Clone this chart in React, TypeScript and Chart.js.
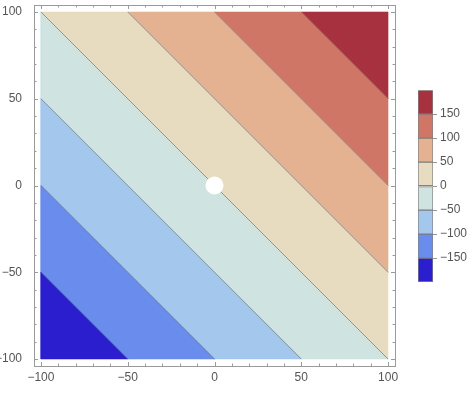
import React, { useEffect, useRef } from "react";
import { Chart, registerables } from "chart.js";
Chart.register(...registerables);

// ---- data ----
const axisTicks = [-100, -50, 0, 50, 100];
const contourLevels = [-150, -100, -50, 0, 50, 100, 150];
const bandColors = ["#2a1ecf", "#6a8cec", "#a4c7ee", "#cfe3e1", "#e7dcc0", "#e4b291", "#cf7667", "#a8313f"];
const legendTicks = [-150, -100, -50, 0, 50, 100, 150];
const legendRange = [-200, 200];
const domain = [-100, 100];
const criticalPoints = [{ x: 0, y: 0 }];

type P = { x: number; y: number };

function clip(poly: P[], f: (p: P) => number): P[] {
  const out: P[] = [];
  for (let i = 0; i < poly.length; i++) {
    const a = poly[i];
    const b = poly[(i + 1) % poly.length];
    const fa = f(a), fb = f(b);
    if (fa >= 0) out.push(a);
    if ((fa >= 0) !== (fb >= 0)) {
      const t = fa / (fa - fb);
      out.push({ x: a.x + t * (b.x - a.x), y: a.y + t * (b.y - a.y) });
    }
  }
  return out;
}

function bandPolygon(lo: number, hi: number): P[] {
  const [d0, d1] = domain;
  let poly: P[] = [
    { x: d0, y: d0 }, { x: d1, y: d0 }, { x: d1, y: d1 }, { x: d0, y: d1 },
  ];
  poly = clip(poly, (p) => p.x + p.y - lo);
  poly = clip(poly, (p) => hi - (p.x + p.y));
  if (poly.length) poly.push(poly[0]);
  return poly;
}

function contourSegment(c: number): P[] {
  const [d0, d1] = domain;
  const x1 = Math.max(d0, c - d1);
  const x2 = Math.min(d1, c - d0);
  return [{ x: x1, y: c - x1 }, { x: x2, y: c - x2 }];
}

const fmt = (v: any) => {
  const n = Number(v);
  return n < 0 ? "\u2212" + Math.abs(n) : String(n);
};

const FONT = { size: 12, family: "'Liberation Sans', Arial, sans-serif" };
const TICK_COLOR = "#555";

const framePlugin = {
  id: "frameTicks",
  afterDraw(chart: any) {
    const { ctx, chartArea: a, scales } = chart;
    ctx.save();
    ctx.strokeStyle = "#9a9a9a";
    ctx.lineWidth = 1;
    ctx.strokeRect(Math.round(a.left) + 0.5, Math.round(a.top) + 0.5, Math.round(a.right - a.left), Math.round(a.bottom - a.top));
    const minor: number[] = [];
    for (let v = domain[0]; v <= domain[1]; v += 10) minor.push(v);
    ctx.beginPath();
    for (const v of minor) {
      const len = axisTicks.includes(v) ? 4 : 2.5;
      const x = Math.round(scales.x.getPixelForValue(v)) + 0.5;
      const y = Math.round(scales.y.getPixelForValue(v)) + 0.5;
      ctx.moveTo(x, a.bottom); ctx.lineTo(x, a.bottom - len);
      ctx.moveTo(x, a.top); ctx.lineTo(x, a.top + len);
      ctx.moveTo(a.left, y); ctx.lineTo(a.left + len, y);
      ctx.moveTo(a.right, y); ctx.lineTo(a.right - len, y);
    }
    ctx.stroke();
    ctx.restore();
  },
};

export default function App() {
  const mainRef = useRef<HTMLCanvasElement>(null);
  const barRef = useRef<HTMLCanvasElement>(null);

  useEffect(() => {
    const bounds = [-Infinity, ...contourLevels, Infinity];
    const bandSets = bandColors.map((c, i) => ({
      type: "scatter" as const,
      data: bandPolygon(bounds[i], bounds[i + 1]),
      showLine: true,
      fill: "shape",
      backgroundColor: c,
      borderColor: c,
      borderWidth: 0.5,
      pointRadius: 0,
      order: 3,
    }));
    const lineSets = contourLevels.map((c) => ({
      type: "scatter" as const,
      data: contourSegment(c),
      showLine: true,
      fill: false,
      borderColor: "rgba(95,100,100,0.6)",
      borderWidth: 1,
      pointRadius: 0,
      order: 2,
    }));
    const dotSet = {
      type: "scatter" as const,
      data: criticalPoints,
      pointRadius: 9,
      pointBackgroundColor: "#ffffff",
      pointBorderWidth: 0,
      borderWidth: 0,
      order: 1,
    };

    const axis = (isX: boolean) => ({
      type: "linear" as const,
      min: -104,
      max: 104,
      afterBuildTicks: (s: any) => { s.ticks = axisTicks.map((v) => ({ value: v })); },
      afterFit: (s: any) => {
        if (isX) { s.height = 33; s.paddingLeft = 0; s.paddingRight = 0; }
        else { s.width = 34; s.paddingTop = 0; s.paddingBottom = 0; }
      },
      ticks: { callback: fmt, color: TICK_COLOR, font: FONT, padding: isX ? -4 : 4, maxRotation: 0, autoSkip: false },
      grid: { display: false },
      border: { display: false },
    });

    const main = new Chart(mainRef.current!, {
      type: "scatter",
      data: { datasets: [...bandSets, ...lineSets, dotSet] as any },
      options: {
        animation: false,
        responsive: false,
        devicePixelRatio: 1,
        layout: { padding: { left: 0, top: 9, right: 79, bottom: 0 } },
        plugins: { legend: { display: false }, tooltip: { enabled: false } },
        scales: { x: axis(true), y: axis(false) } as any,
      },
      plugins: [framePlugin],
    });

    const legendBounds = [legendRange[0], ...contourLevels, legendRange[1]];
    const bar = new Chart(barRef.current!, {
      type: "bar",
      data: {
        labels: [""],
        datasets: bandColors.map((c, i) => ({
          data: [[legendBounds[i], legendBounds[i + 1]]] as any,
          backgroundColor: c,
          borderColor: "rgba(90,90,90,0.75)",
          borderWidth: 1,
          borderSkipped: false,
          grouped: false,
          barPercentage: 1,
          categoryPercentage: 1,
        })),
      },
      options: {
        animation: false,
        responsive: false,
        devicePixelRatio: 1,
        layout: { padding: { left: 18, top: 9, right: 0, bottom: 18 } },
        plugins: { legend: { display: false }, tooltip: { enabled: false } },
        scales: {
          x: { display: false },
          y: {
            position: "right",
            min: legendRange[0],
            max: legendRange[1],
            afterBuildTicks: (s: any) => { s.ticks = legendTicks.map((v) => ({ value: v })); },
            afterFit: (s: any) => { s.width = 41; },
            ticks: { callback: fmt, color: TICK_COLOR, font: FONT, padding: 3, autoSkip: false },
            grid: { display: true, drawOnChartArea: false, tickLength: 4, color: "#999" },
            border: { display: false },
          },
        } as any,
      },
    });

    return () => { main.destroy(); bar.destroy(); };
  }, []);

  return (
    <div style={{ position: "fixed", left: 0, top: 0, width: 474, height: 399, background: "#fff", overflow: "hidden" }}>
      <canvas ref={mainRef} width={474} height={403} style={{ position: "absolute", left: 0, top: -4 }} />
      <canvas ref={barRef} width={74} height={220} style={{ position: "absolute", left: 400, top: 80 }} />
    </div>
  );
}
